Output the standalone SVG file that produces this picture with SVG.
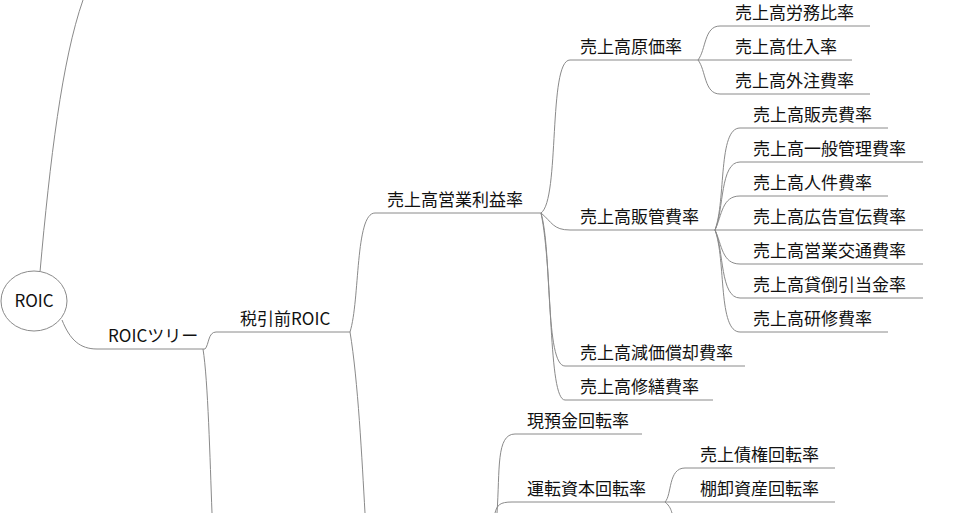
<svg xmlns="http://www.w3.org/2000/svg" width="978" height="513" viewBox="0 0 978 513">
<style>
text{font-family:"Noto Sans CJK JP","Noto Sans",sans-serif;font-size:17px;fill:#111}
.c{fill:none;stroke:#8a8a8a;stroke-width:1}
</style>
<rect width="978" height="513" fill="#fff"/>
<g id="connectors" class="c">
<path d="M40,272 C50,160 62,60 83,0"/>
<path d="M62,320 C70,340 80,349 97,349 H205"/>
<path d="M205,349 C209,345 208,332 216,332 H350"/>
<path d="M203,349 C208,380 210,460 212,513"/>
<path d="M350,332 C360,300 355,213 375,213 H541"/>
<path d="M350,332 C358,380 362,460 365,513"/>
<path d="M541,213 C560,200 548,60 570,60 H698"/>
<path d="M541,213 C552,222 553,230 570,230 H715"/>
<path d="M541,213 C552,250 545,366 565,366 H745"/>
<path d="M541,213 C553,270 548,400 565,400 H713"/>
<path d="M698,60 C706,50 704,26 720,26 H870"/>
<path d="M698,60 H852"/>
<path d="M698,60 C706,70 704,94 720,94 H870"/>
<path d="M715,230 C726,200 718,128 740,128 H888"/>
<path d="M715,230 C724,210 720,162 740,162 H923"/>
<path d="M715,230 C722,215 722,196 740,196 H888"/>
<path d="M715,230 H923"/>
<path d="M715,230 C722,245 722,264 740,264 H923"/>
<path d="M715,230 C724,250 720,298 740,298 H923"/>
<path d="M715,230 C726,260 718,332 740,332 H888"/>
<path d="M497,513 C500,470 496,434 515,434 H642"/>
<path d="M495,513 C497,505 500,502 512,502 H665"/>
<path d="M665,502 C672,495 668,468 685,468 H835"/>
<path d="M665,502 H835"/>
<path d="M665,502 C670,506 671,510 672,513"/>
</g>
<g id="n-roic"><ellipse cx="34" cy="301" rx="33" ry="30" fill="#fff" stroke="#8a8a8a"/><text x="34" y="307" text-anchor="middle">ROIC</text></g>
<g id="n-tree"><text x="108" y="342">ROICツリー</text></g>
<g id="n-pretax"><text x="240" y="325">税引前ROIC</text></g>
<g id="n-opm"><text x="387" y="206">売上高営業利益率</text></g>
<g id="n-cogs"><text x="580" y="53">売上高原価率</text></g>
<g id="n-labor"><text x="735" y="19">売上高労務比率</text></g>
<g id="n-purch"><text x="735" y="53">売上高仕入率</text></g>
<g id="n-out"><text x="735" y="87">売上高外注費率</text></g>
<g id="n-sga"><text x="580" y="223">売上高販管費率</text></g>
<g id="n-sell"><text x="753" y="121">売上高販売費率</text></g>
<g id="n-gen"><text x="753" y="155">売上高一般管理費率</text></g>
<g id="n-pers"><text x="753" y="189">売上高人件費率</text></g>
<g id="n-adv"><text x="753" y="223">売上高広告宣伝費率</text></g>
<g id="n-trav"><text x="753" y="257">売上高営業交通費率</text></g>
<g id="n-bad"><text x="753" y="291">売上高貸倒引当金率</text></g>
<g id="n-train"><text x="753" y="325">売上高研修費率</text></g>
<g id="n-dep"><text x="580" y="359">売上高減価償却費率</text></g>
<g id="n-rep"><text x="580" y="393">売上高修繕費率</text></g>
<g id="n-cash"><text x="527" y="427">現預金回転率</text></g>
<g id="n-wc"><text x="527" y="495">運転資本回転率</text></g>
<g id="n-ar"><text x="700" y="461">売上債権回転率</text></g>
<g id="n-inv"><text x="700" y="495">棚卸資産回転率</text></g>
</svg>
